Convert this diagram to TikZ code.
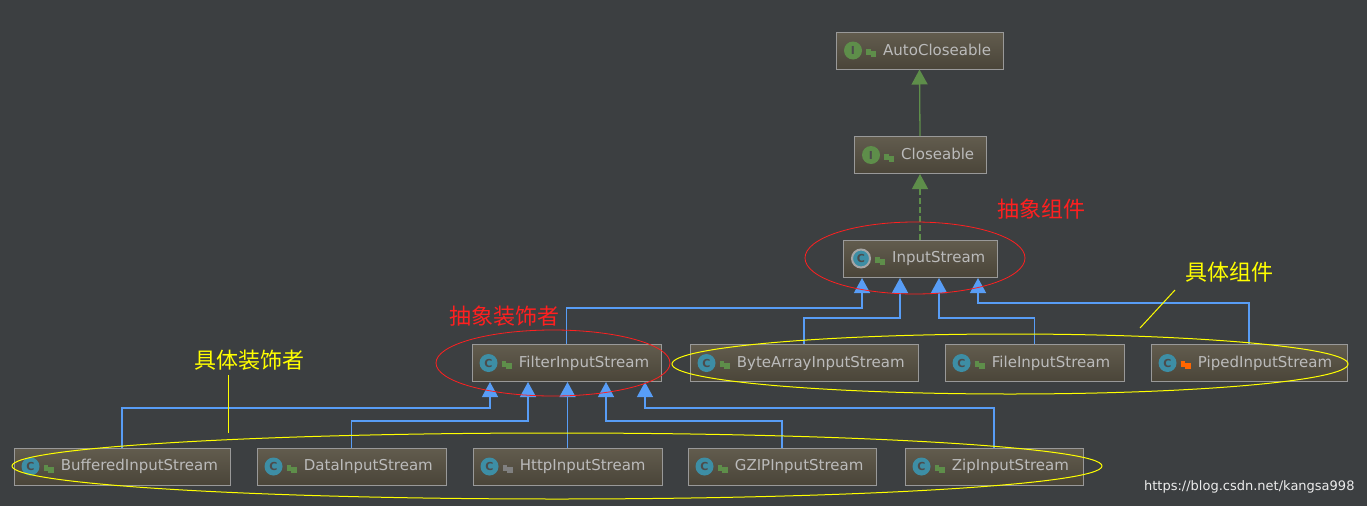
\documentclass[tikz,border=0pt]{standalone}
\usepackage{fontspec}
\setmainfont{DejaVu Sans}
\newfontfamily\cjk{Noto Sans CJK SC}
\usetikzlibrary{arrows.meta}
\definecolor{bg}{HTML}{3C3F41}
\definecolor{boxtop}{HTML}{625C4E}
\definecolor{boxbot}{HTML}{4A4539}
\definecolor{txt}{HTML}{BBBBBB}
\definecolor{blu}{HTML}{589DF6}
\definecolor{grn}{HTML}{5E8E4A}
\definecolor{teal}{HTML}{3D8EA5}
\definecolor{ired}{HTML}{FF2020}
\definecolor{iyel}{HTML}{FFFF00}
\tikzset{
 cls/.style={draw=gray!80,line width=1pt,top color=boxtop,bottom color=boxbot,minimum height=37pt,inner sep=0pt},
 lbl/.style={anchor=west,inner sep=0pt,text=txt,font=\fontsize{15}{15}\selectfont},
 inh/.style={blu,line width=1.3pt,-{Triangle[width=16pt,length=15pt,fill=blu]}},
 ginh/.style={grn,line width=1.3pt,-{Triangle[width=16pt,length=15pt,fill=grn]}},
 ico/.style={circle,fill=#1,minimum size=18pt,inner sep=0pt,text=black!70,font=\bfseries\fontsize{11}{11}\selectfont},
}
\newcommand{\lk}[1][grn]{\tikz[baseline=-1pt]{\fill[#1] (0,-1pt) rectangle (4.5pt,5pt);\fill[#1] (4.5pt,-3pt) rectangle (10pt,3pt);}\hspace{7pt}}
\begin{document}
\begin{tikzpicture}[x=1pt,y=-1pt]
\fill[bg] (0,0) rectangle (1367,506);
\useasboundingbox (0,0) rectangle (1367,506);
% boxes
\node[cls,minimum width=167pt] (auto) at (919.5,50.5) {};
\node[ico=grn] (autoi) at (853,50.5) {I};
\node[lbl] (autot) at (866,50.5) {\lk AutoCloseable};
\node[cls,minimum width=132pt] (clo) at (920,155) {};
\node[ico=grn] (cloi) at (871,155) {I};
\node[lbl] (clot) at (884,155) {\lk Closeable};
\node[cls,minimum width=154pt] (ins) at (920,258.5) {};
\node[ico=teal,draw=gray!70,line width=2pt] (insi) at (861,258.5) {C};
\node[lbl] (inst) at (875,258.5) {\lk InputStream};
\newcommand{\cb}[6][grn]{%
 \node[cls,minimum width=#5pt] (#2) at (#3,#4) {};
 \node[ico=teal] (#2i) at ([xshift=17pt]#2.west) {C};
 \node[lbl] (#2t) at ([xshift=4pt]#2i.east) {\lk[#1]#6};}
\cb{fil}{566.5}{363}{189}{FilterInputStream}
\cb{bya}{804}{363}{228}{ByteArrayInputStream}
\cb{fis}{1034.5}{363}{179}{FileInputStream}
\cb[orange!80!red]{pip}{1249}{363}{196}{PipedInputStream}
\cb{buf}{122}{466.5}{216}{BufferedInputStream}
\cb{dat}{351.5}{466.5}{189}{DataInputStream}
\cb[gray]{htp}{567.5}{466.5}{189}{HttpInputStream}
\cb{gzi}{782}{466.5}{188}{GZIPInputStream}
\cb{zip}{994}{466.5}{178}{ZipInputStream}
% green
\draw[ginh] (clo.north) -- (auto.south);
\draw[ginh,dash pattern=on 6pt off 3pt] (ins.north) -- (clo.south);
% blue: InputStream children
\draw[inh] (fil.north) |- (862,308) -- (862,278);
\draw[inh] (bya.north) |- (900,318) -- (900,278);
\draw[inh] (fis.north) |- (939,318) -- (939,278);
\draw[inh] (pip.north) |- (978,303) -- (978,278);
% Filter children
\draw[inh] (buf.north) |- (490,408) -- (490,382);
\draw[inh] (dat.north) |- (528,421) -- (528,382);
\draw[inh] (htp.north) -- (567.5,382);
\draw[inh] (gzi.north) |- (606,421) -- (606,382);
\draw[inh] (zip.north) |- (645,408) -- (645,382);
% ellipses
\draw[ired,line width=0.8pt] (915,258) ellipse [x radius=110,y radius=36];
\draw[ired,line width=0.8pt] (553,363) ellipse [x radius=117,y radius=33];
\draw[iyel,line width=1pt] (1010,364) ellipse [x radius=338,y radius=30];
\draw[iyel,line width=1pt] (557,466) ellipse [x radius=545,y radius=33];
% labels
\node[text=ired,font=\cjk\fontsize{22}{22}\selectfont] (l1) at (1041,209) {抽象组件};
\node[text=iyel,font=\cjk\fontsize{22}{22}\selectfont] (l2) at (1229,272) {具体组件};
\node[text=ired,font=\cjk\fontsize{22}{22}\selectfont] (l3) at (504,316) {抽象装饰者};
\node[text=iyel,font=\cjk\fontsize{22}{22}\selectfont] (l4) at (249,360) {具体装饰者};
\coordinate (e1) at (1140,328);
\coordinate (e2) at (228,433);
\draw[iyel,line width=1pt] (1175,290) -- (e1);
\draw[iyel,line width=1pt] (228,375) -- (e2);
\node[text=white!85!gray,font=\fontsize{13}{13}\selectfont,anchor=east] (wm) at (1358,487) {https://blog.csdn.net/kangsa998};
\end{tikzpicture}
\end{document}
